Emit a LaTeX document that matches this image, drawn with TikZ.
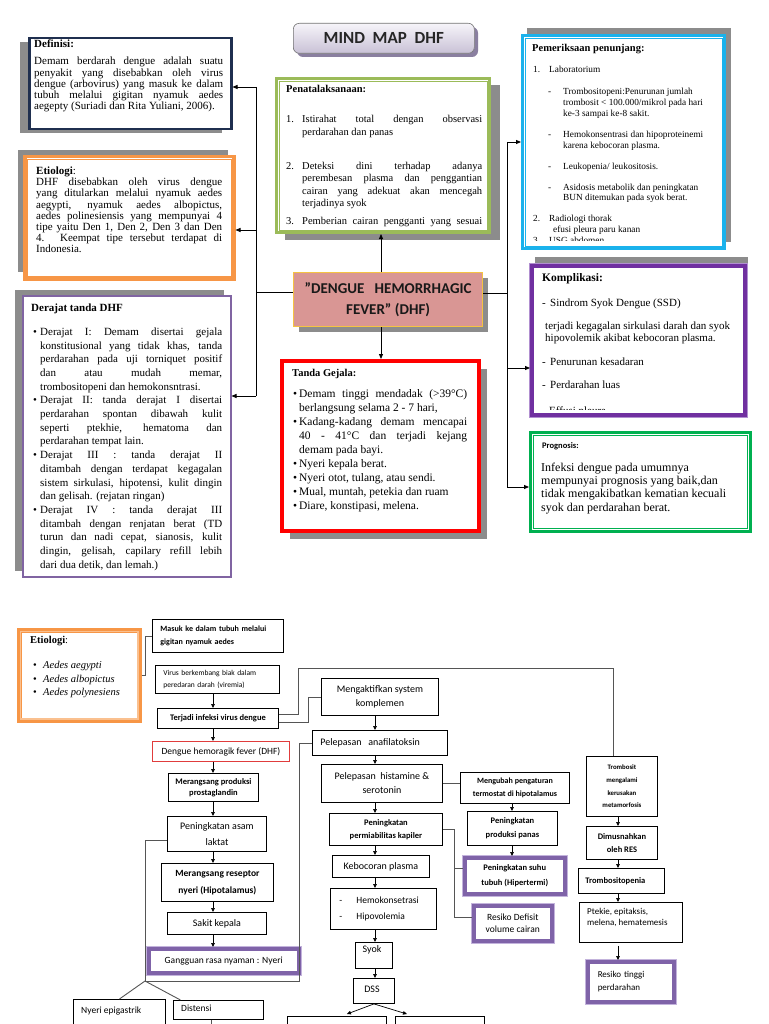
\documentclass[tikz,border=0pt]{standalone}
\usepackage{fontspec}
\setmainfont{Liberation Serif}
\newfontfamily\calfnt{Carlito}
\usetikzlibrary{arrows.meta}
\definecolor{shad}{HTML}{8C8C8C}
\definecolor{navyb}{HTML}{1F2F4F}
\definecolor{orng}{HTML}{F79646}
\definecolor{orngL}{HTML}{FAC08F}
\definecolor{grnP}{HTML}{9BBB59}
\definecolor{cyanP}{HTML}{1AB2EC}
\definecolor{purK}{HTML}{7030A0}
\definecolor{purKL}{HTML}{B18FD0}
\definecolor{derP}{HTML}{8064A2}
\definecolor{grnG}{HTML}{00B050}
\definecolor{redT}{HTML}{FF0000}
\definecolor{pinkF}{HTML}{D99694}
\definecolor{goldC}{HTML}{F5C342}
\definecolor{pB}{HTML}{7F63A8}
\definecolor{pL}{HTML}{C3B3DC}
\definecolor{lineG}{HTML}{555555}
\definecolor{redB}{HTML}{E03C3C}
\definecolor{ttlT}{HTML}{F6F4F9}
\definecolor{ttlB}{HTML}{C9C1D6}
\definecolor{ttlS}{HTML}{8A7FA0}
\newcommand\fs[2]{\fontsize{#1}{#2}\selectfont}
\newcommand\tight{\lineskiplimit=-100pt\lineskip=0pt\relax}
\newcommand\JL[2][0pt]{\hspace*{#1}\makebox[\dimexpr\linewidth-#1\relax][s]{#2}\par}
\newcommand\LL[2][0pt]{\hspace*{#1}\makebox[\dimexpr\linewidth-#1\relax][l]{#2}\par}
\newcommand\Item[4]{\hspace*{#1}\makebox[#2][l]{#3}\makebox[\dimexpr\linewidth-#1-#2\relax][s]{#4}\par}
\newcommand\ItemL[4]{\hspace*{#1}\makebox[#2][l]{#3}\makebox[\dimexpr\linewidth-#1-#2\relax][l]{#4}\par}
\begin{document}
\begin{tikzpicture}[x=1pt,y=-1pt,
  frm/.style={anchor=north west, inner sep=0pt, fill=white},
  tx/.style={anchor=base west, inner sep=0pt},
  arr/.style={-{Triangle[length=5pt,width=4pt]}, line width=0.8pt},
  barr/.style={-{Triangle[length=4pt,width=3.6pt]}, line width=0.7pt},
  ln/.style={line width=0.8pt},
  gl/.style={draw=lineG, line width=0.9pt},
  bx/.style={frm, draw=black, line width=0.9pt, align=center},
  pbx/.style={frm, draw=pB, line width=3.5pt, preaction={draw=pL, line width=6pt}, align=center}]
\fill[white] (0,0) rectangle (768,1024);
\useasboundingbox (0,0) rectangle (768,1024);

% ---------- title
\fill[ttlS, rounded corners=6pt] (297,27) rectangle (478,57);
\node[frm, rounded corners=6pt, draw=black!55, line width=0.6pt, top color=ttlT, bottom color=ttlB,
  minimum width=181pt, minimum height=30pt, font=\calfnt\bfseries\fs{17}{17}, text=black!85] (ttl) at (293,23) {MIND\ \ MAP\ \ DHF};

% ---------- Definisi
\fill[shad] (20,42) rectangle (222,133);
\node[frm, draw=navyb, line width=2.5pt, minimum width=202pt, minimum height=91pt] (def) at (28,37) {};
\node[tx, font=\fs{11}{11.2}] (defT) at (34,48) {\parbox[t]{189pt}{\tight
  \LL{\textbf{Definisi:}}\vspace{5.8pt}
  \JL{Demam berdarah dengue adalah suatu}
  \JL{penyakit yang disebabkan oleh virus}
  \JL{dengue (arbovirus) yang masuk ke dalam}
  \JL{tubuh melalui gigitan nyamuk aedes}
  \LL{aegepty (Suriadi dan Rita Yuliani, 2006).}}};

% ---------- Etiologi (top)
\fill[shad] (18,150) rectangle (228,272);
\node[frm, draw=orng, line width=3.5pt, minimum width=209pt, minimum height=122pt] (eti) at (23,155) {};
\draw[orng, line width=0.9pt] ([xshift=4.5pt,yshift=-4.5pt]eti.north west) rectangle ([xshift=-4.5pt,yshift=4.5pt]eti.south east);
\node[tx, font=\fs{11}{11.2}] (etiT) at (36,174.5) {\parbox[t]{186pt}{\tight
  \LL{\textbf{Etiologi}:}
  \JL{DHF disebabkan oleh virus dengue}
  \JL{yang ditularkan melalui nyamuk aedes}
  \JL{aegypti, nyamuk aedes albopictus,}
  \JL{aedes polinesiensis yang mempunyai 4}
  \JL{tipe yaitu Den 1, Den 2, Den 3 dan Den}
  \JL{4. Keempat tipe tersebut terdapat di}
  \LL{Indonesia.}}};

% ---------- Derajat
\fill[shad] (15,290) rectangle (224,571);
\node[frm, draw=derP, line width=1.5pt, minimum width=208pt, minimum height=281pt] (der) at (22,295) {};
\node[tx, font=\fs{11}{13.7}] (derT) at (31,311) {\parbox[t]{191pt}{\tight
  \LL{\textbf{Derajat tanda DHF}}\vspace{10.6pt}
  \Item{2pt}{7pt}{•}{Derajat I: Demam disertai gejala}
  \JL[9pt]{konstitusional yang tidak khas, tanda}
  \JL[9pt]{perdarahan pada uji torniquet positif}
  \JL[9pt]{dan atau mudah memar,}
  \LL[9pt]{trombositopeni dan hemokonsntrasi.}
  \Item{2pt}{7pt}{•}{Derajat II: tanda derajat I disertai}
  \JL[9pt]{perdarahan spontan dibawah kulit}
  \JL[9pt]{seperti ptekhie, hematoma dan}
  \LL[9pt]{perdarahan tempat lain.}
  \Item{2pt}{7pt}{•}{Derajat III : tanda derajat II}
  \JL[9pt]{ditambah dengan  terdapat kegagalan}
  \JL[9pt]{sistem sirkulasi, hipotensi, kulit dingin}
  \LL[9pt]{dan gelisah. (rejatan ringan)}
  \Item{2pt}{7pt}{•}{Derajat IV : tanda derajat III}
  \JL[9pt]{ditambah dengan  renjatan berat (TD}
  \JL[9pt]{turun dan nadi cepat, sianosis, kulit}
  \JL[9pt]{dingin, gelisah, capilary refill lebih}
  \LL[9pt]{dari dua detik, dan lemah.)}}};

% ---------- Penatalaksanaan
\fill[shad] (285,85) rectangle (500,240);
\node[frm, draw=grnP, line width=3pt, minimum width=213pt, minimum height=154pt] (pen) at (275,77) {};
\draw[grnP, line width=0.9pt] ([xshift=4pt,yshift=-4pt]pen.north west) rectangle ([xshift=-4pt,yshift=4pt]pen.south east);
\node[tx, font=\fs{10.5}{12.5}] (penT) at (286,92.3) {\parbox[t]{196pt}{\tight
  \LL{\fs{10.5}{12.5}\bfseries Penatalaksanaan:}\vspace{18.2pt}
  \Item{0pt}{16pt}{1.}{Istirahat total dengan observasi}
  \LL[16pt]{perdarahan dan panas}\vspace{21.5pt}
  \Item{0pt}{16pt}{2.}{Deteksi dini terhadap adanya}
  \JL[16pt]{perembesan plasma dan penggantian}
  \JL[16pt]{cairan yang adekuat akan mencegah}
  \LL[16pt]{terjadinya syok}\vspace{4.9pt}
  \Item{0pt}{16pt}{3.}{Pemberian cairan pengganti yang sesuai}}};

% ---------- DHF centre
\fill[shad] (299,278) rectangle (488,332);
\node[frm, draw=goldC, line width=1.2pt, fill=pinkF, minimum width=189pt, minimum height=54pt, align=center,
  font=\calfnt\bfseries\fs{15}{21}, text=black!90] (dhf) at (293,272) {”DENGUE\ \ \ HEMORRHAGIC\\FEVER” (DHF)};

% ---------- Pemeriksaan
\fill[shad] (527,28) rectangle (731,242);
\node[frm, draw=cyanP, line width=3pt, minimum width=202pt, minimum height=213pt] (pem) at (521,34) {};
\draw[cyanP, line width=0.9pt] ([xshift=4pt,yshift=-4pt]pem.north west) rectangle ([xshift=-4pt,yshift=4pt]pem.south east);
\begin{scope}
\clip (526,39) rectangle (718,240);
\node[tx, font=\fs{9.3}{10.9}] (pemT) at (532,52) {\parbox[t]{186pt}{\tight
  \LL{\fs{10.5}{10.9}\bfseries Pemeriksaan penunjang:}\vspace{9.9pt}
  \ItemL{1pt}{16pt}{1.}{Laboratorium}\vspace{11pt}
  \ItemL{16pt}{15pt}{-}{Trombositopeni:Penurunan jumlah}
  \LL[31pt]{trombosit < 100.000/mikrol pada hari}
  \LL[31pt]{ke-3 sampai ke-8 sakit.}\vspace{10pt}
  \ItemL{16pt}{15pt}{-}{Hemokonsentrasi dan hipoproteinemi}
  \LL[31pt]{karena kebocoran plasma.}\vspace{10pt}
  \ItemL{16pt}{15pt}{-}{Leukopenia/ leukositosis.}\vspace{10pt}
  \ItemL{16pt}{15pt}{-}{Asidosis metabolik dan peningkatan}
  \LL[31pt]{BUN ditemukan pada syok berat.}\vspace{10pt}
  \ItemL{1pt}{16pt}{2.}{Radiologi thorak}
  \LL[21pt]{efusi pleura paru kanan}
  \ItemL{1pt}{16pt}{3.}{USG abdomen}}};
\end{scope}

% ---------- Komplikasi
\fill[shad] (535,257) rectangle (748,407);
\node[frm, draw=purK, line width=3.5pt, preaction={draw=purKL, line width=5.5pt}, minimum width=213pt, minimum height=149pt] (kom) at (530,264) {};
\begin{scope}
\clip (533,267) rectangle (740,409);
\node[tx, font=\fs{11}{12}] (komT) at (542,281) {\parbox[t]{195pt}{\tight
  \LL{\fs{11.5}{12}\bfseries Komplikasi:}\vspace{13pt}
  \ItemL{0pt}{8pt}{-}{Sindrom Syok Dengue (SSD)}\vspace{11pt}
  \LL[3pt]{terjadi kegagalan sirkulasi darah dan syok}
  \LL[3pt]{hipovolemik akibat kebocoran plasma.}\vspace{12pt}
  \ItemL{0pt}{8pt}{-}{Penurunan kesadaran}\vspace{11pt}
  \ItemL{0pt}{8pt}{-}{Perdarahan luas}\vspace{14pt}
  \LL[7pt]{Effusi pleura}}};
\end{scope}

% ---------- Prognosis
\node[frm, draw=grnG, line width=2.5pt, minimum width=220pt, minimum height=99pt] (prog) at (529,431) {};
\draw[grnG, line width=0.9pt] ([xshift=4pt,yshift=-4pt]prog.north west) rectangle ([xshift=-4pt,yshift=4pt]prog.south east);
\node[tx, font=\fs{12}{13.3}] (progT) at (541,448) {\parbox[t]{200pt}{\tight
  \LL[1pt]{\calfnt\bfseries\fs{8.5}{13.3}Prognosis:}\vspace{10pt}
  \LL{Infeksi dengue pada umumnya}
  \LL{mempunyai prognosis yang baik,dan}
  \LL{tidak mengakibatkan kematian kecuali}
  \LL{syok dan perdarahan berat.}}};

% ---------- Tanda Gejala
\fill[shad] (290,369) rectangle (487,539);
\node[frm, draw=redT, line width=4pt, minimum width=197pt, minimum height=170pt] (tg) at (280,359) {};
\node[tx, font=\fs{11.5}{14}] (tgT) at (292,376.5) {\parbox[t]{175pt}{\tight
  \LL{\fs{10.5}{14}\bfseries Tanda Gejala:}\vspace{7.3pt}
  \Item{1pt}{6pt}{•}{Demam tinggi mendadak (>39°C)}
  \LL[7pt]{berlangsung selama 2 - 7 hari,}
  \Item{1pt}{6pt}{•}{Kadang-kadang demam mencapai}
  \JL[7pt]{40 - 41°C dan terjadi kejang}
  \LL[7pt]{demam pada bayi.}
  \ItemL{1pt}{6pt}{•}{Nyeri kepala berat.}
  \ItemL{1pt}{6pt}{•}{Nyeri otot, tulang, atau sendi.}
  \ItemL{1pt}{6pt}{•}{Mual, muntah, petekia dan ruam}
  \ItemL{1pt}{6pt}{•}{Diare, konstipasi, melena.}}};

% ---------- top connectors
\coordinate (sL1) at (256,87);
\coordinate (sL2) at (256,230);
\coordinate (sL3) at (256,396);
\coordinate (sLc) at (256,292);
\draw[ln] (sL1) -- (sL3);
\draw[ln] (dhf.west |- sLc) -- (sLc);
\draw[arr] (sL1) -- (sL1 -| def.east);
\draw[arr] (sL2) -- (sL2 -| eti.east);
\draw[arr] (sL3) -- (sL3 -| der.east);
\coordinate (sR1) at (507,142);
\coordinate (sR2) at (507,368);
\coordinate (sR3) at (507,487);
\coordinate (sRc) at (507,293);
\draw[ln] (sR1) -- (sR3);
\draw[ln] (dhf.east |- sRc) -- (sRc);
\draw[arr] (sR1) -- (sR1 -| pem.west);
\draw[arr] (sR2) -- (sR2 -| kom.west);
\draw[arr] (sR3) -- (sR3 -| prog.west);
\coordinate (cx) at (381,0);
\draw[arr] (dhf.north -| cx) -- (pen.south -| cx);
\draw[arr] (dhf.south -| cx) -- (tg.north -| cx);

% ================= bottom flow
\node[frm, draw=orng, line width=4.5pt, minimum width=120pt, minimum height=90pt] (et2) at (17,628) {};
\draw[orngL, line width=1.2pt] ([xshift=3.5pt,yshift=-3.5pt]et2.north west) rectangle ([xshift=-3.5pt,yshift=3.5pt]et2.south east);
\node[tx, font=\fs{10.5}{13.5}] (et2T) at (30,643) {\parbox[t]{100pt}{\tight
  \LL{\textbf{Etiologi}:}\vspace{12pt}
  \ItemL{3pt}{10pt}{•}{\textit{Aedes aegypti}}
  \ItemL{3pt}{10pt}{•}{\textit{Aedes albopictus}}
  \ItemL{3pt}{10pt}{•}{\textit{Aedes polynesiens}}}};

\node[bx, minimum width=131pt, minimum height=33pt, text width=115pt, align=left, font=\calfnt\bfseries\fs{8}{13}] (masuk) at (152,619) {Masuk ke dalam tubuh melalui\\gigitan nyamuk aedes};
\node[bx, minimum width=124pt, minimum height=28pt, text width=108pt, align=left, font=\calfnt\fs{7.5}{12.6}] (virus) at (155,665) {Virus berkembang biak dalam\\peredaran darah (viremia)};
\node[bx, minimum width=121pt, minimum height=20pt, font=\calfnt\bfseries\fs{8.5}{10}] (terjadi) at (157,708) {Terjadi infeksi virus dengue};
\node[bx, draw=redB, minimum width=137pt, minimum height=20pt, font=\calfnt\fs{9.5}{11}] (dhfb) at (152,741) {Dengue hemoragik fever (DHF)};
\node[bx, minimum width=90pt, minimum height=28pt, font=\calfnt\bfseries\fs{8.5}{11}] (merP) at (168,773) {Merangsang produksi\\prostaglandin};
\node[bx, minimum width=99pt, minimum height=35pt, font=\calfnt\fs{10}{15.6}] (asam) at (167,816) {Peningkatan asam\\laktat};
\node[bx, minimum width=112pt, minimum height=38pt, font=\calfnt\bfseries\fs{9.5}{16.6}] (resep) at (161,863) {Merangsang reseptor\\nyeri (Hipotalamus)};
\node[bx, minimum width=99pt, minimum height=22pt, font=\calfnt\fs{10}{12}] (sakit) at (167,912) {Sakit kepala};
\node[pbx, minimum width=150pt, minimum height=24pt, font=\calfnt\fs{9.5}{11}] (ggn) at (147,947) {Gangguan rasa nyaman : Nyeri};
\node[bx, minimum width=92pt, minimum height=40pt] (nyeriE) at (73,999) {};
\node[tx, font=\calfnt\fs{9.5}{11}] (nyeriT) at (81,1013) {Nyeri epigastrik};
\node[bx, minimum width=90pt, minimum height=19pt] (dist) at (173,1000) {};
\node[tx, font=\calfnt\fs{9.5}{11}] (distT) at (181,1011) {Distensi};

\node[bx, minimum width=117pt, minimum height=37pt, font=\calfnt\fs{10}{14.4}] (aktif) at (321,678) {Mengaktifkan system\\komplemen};
\node[bx, minimum width=135pt, minimum height=25pt, text width=119pt, align=left, font=\calfnt\fs{10}{12}] (anaf) at (312,730) {Pelepasan\ \ anafilatoksin};
\node[bx, minimum width=121pt, minimum height=38pt, font=\calfnt\fs{10}{14}] (hist) at (321,764) {Pelepasan\ \ histamine \&\\serotonin};
\node[bx, minimum width=113pt, minimum height=32pt, font=\calfnt\bfseries\fs{8.5}{13.3}] (perm) at (329,813) {Peningkatan\\permiabilitas kapiler};
\node[bx, minimum width=97pt, minimum height=22pt, font=\calfnt\fs{10}{12}] (kebo) at (332,855) {Kebocoran plasma};
\node[bx, minimum width=106pt, minimum height=41pt, text width=88pt, align=left, font=\calfnt\fs{9.5}{15.7}] (hemo) at (330,888) {\makebox[17pt][l]{-}Hemokonsetrasi\\\makebox[17pt][l]{-}Hipovolemia};
\node[bx, minimum width=37pt, minimum height=26pt] (syok) at (355,942) {};
\node[inner sep=0pt, font=\calfnt\fs{10}{12}] (syokT) at (372,950) {Syok};
\node[bx, minimum width=41pt, minimum height=25pt] (dss) at (353,978) {};
\node[inner sep=0pt, font=\calfnt\fs{10}{12}] (dssT) at (372,989) {DSS};
\node[bx, minimum width=99pt, minimum height=30pt] (dL) at (287,1016) {};
\node[bx, minimum width=89pt, minimum height=30pt] (dR) at (395,1016) {};

\node[bx, minimum width=109pt, minimum height=31pt, font=\calfnt\bfseries\fs{8}{12.4}] (ubah) at (460,772) {Mengubah pengaturan\\termostat di hipotalamus};
\node[bx, minimum width=90pt, minimum height=34pt, font=\calfnt\bfseries\fs{8.5}{14}] (panas) at (467,811) {Peningkatan\\produksi panas};
\node[pbx, minimum width=100pt, minimum height=36pt, font=\calfnt\bfseries\fs{8.5}{14.3}] (suhu) at (463,856) {Peningkatan suhu\\tubuh (Hipertermi)};
\node[pbx, minimum width=78pt, minimum height=35pt, font=\calfnt\fs{9.5}{12.3}] (defis) at (472,904) {Resiko Defisit\\volume cairan};

\node[bx, minimum width=71pt, minimum height=60pt, font=\calfnt\bfseries\fs{6.8}{12.6}] (tromb) at (586,756) {Trombosit\\mengalami\\kerusakan\\metamorfosis};
\node[bx, minimum width=71pt, minimum height=33pt, font=\calfnt\bfseries\fs{8.5}{13.3}] (dimus) at (586,826) {Dimusnahkan\\oleh RES};
\node[bx, minimum width=86pt, minimum height=25pt, text width=72pt, align=left, font=\calfnt\bfseries\fs{8.5}{10}] (trpen) at (578,868) {Trombositopenia};
\node[bx, minimum width=103pt, minimum height=40pt] (ptek) at (579,902) {};
\node[tx, font=\calfnt\fs{9}{11}] (ptekT) at (587,914.5) {\parbox[t]{92pt}{Ptekie, epitaksis,\\melena, hematemesis}};
\node[pbx, minimum width=86pt, minimum height=40pt, text width=66pt, align=left, font=\calfnt\fs{9}{12.7}] (rtinggi) at (586,960) {Resiko tinggi\\perdarahan};

% ---------- bottom arrows
\coordinate (cA) at (213,0);
\foreach \a/\b in {virus/terjadi, terjadi/dhfb, dhfb/merP, merP/asam, asam/resep, resep/sakit, sakit/ggn}
  \draw[barr] (\a.south -| cA) -- (\b.north -| cA);
\coordinate (cB) at (375,0);
\foreach \a/\b in {aktif/anaf, anaf/hist, hist/perm, perm/kebo, kebo/hemo, hemo/syok, syok/dss}
  \draw[barr] (\a.south -| cB) -- (\b.north -| cB);
\coordinate (cC) at (512,0);
\foreach \a/\b in {ubah/panas, panas/suhu}
  \draw[barr] (\a.south -| cC) -- (\b.north -| cC);
\coordinate (cD) at (618,0);
\foreach \a/\b in {tromb/dimus, dimus/trpen, trpen/ptek}
  \draw[barr] (\a.south -| cD) -- (\b.north -| cD);
\coordinate (ptekB) at ([yshift=-3pt]ptek.south);
\draw[barr] (ptekB -| cD) -- (rtinggi.north -| cD);
\coordinate (dLa) at ([xshift=10pt,yshift=2pt]dL.north);
\coordinate (dRa) at ([xshift=-33pt,yshift=2pt]dR.north);
\draw[barr] (dss.south) -- (dLa);
\draw[barr] (dss.south) -- (dRa);

% ---------- bottom plain lines
\coordinate (j1) at (145,0);
\draw[gl] (et2.east) -- (et2.east -| j1) |- (masuk.west);
\coordinate (tU) at ([yshift=4pt]terjadi.east);
\coordinate (tD) at ([yshift=-4pt]terjadi.east);
\coordinate (kx1) at (298,668);
\coordinate (kx2) at (613,668);
\draw[gl] (tU) -| (kx1) -- (kx2) -- (kx2 |- tromb.north);
\coordinate (kx3) at (308,0);
\draw[gl] (tD) -| (kx3 |- aktif.west) -- (aktif.west);
\coordinate (jR) at (299,981);
\coordinate (jn) at (145,981);
\draw[gl] (anaf.west) -| (jR) -- (jn);
\coordinate (asW) at ([yshift=-6pt]asam.west);
\draw[gl] (asW) -| (jn);
\coordinate (distN) at ([xshift=-38pt]dist.north);
\draw[gl] (jn) -- (nyeriE.north);
\draw[gl] (jn) -- (distN);
\coordinate (distD) at (211,1035);
\draw[gl] (dist.south -| distD) -- (distD);
\draw[gl] (hist.east) -- (hist.east -| ubah.west);
\coordinate (pj1) at (454,917);
\coordinate (pj2) at (454,868);
\draw[gl] (perm.east) -| (pj1) -- (pj1 -| defis.west);
\draw[gl] (pj2) -- (pj2 -| suhu.west);
\end{tikzpicture}
\end{document}
